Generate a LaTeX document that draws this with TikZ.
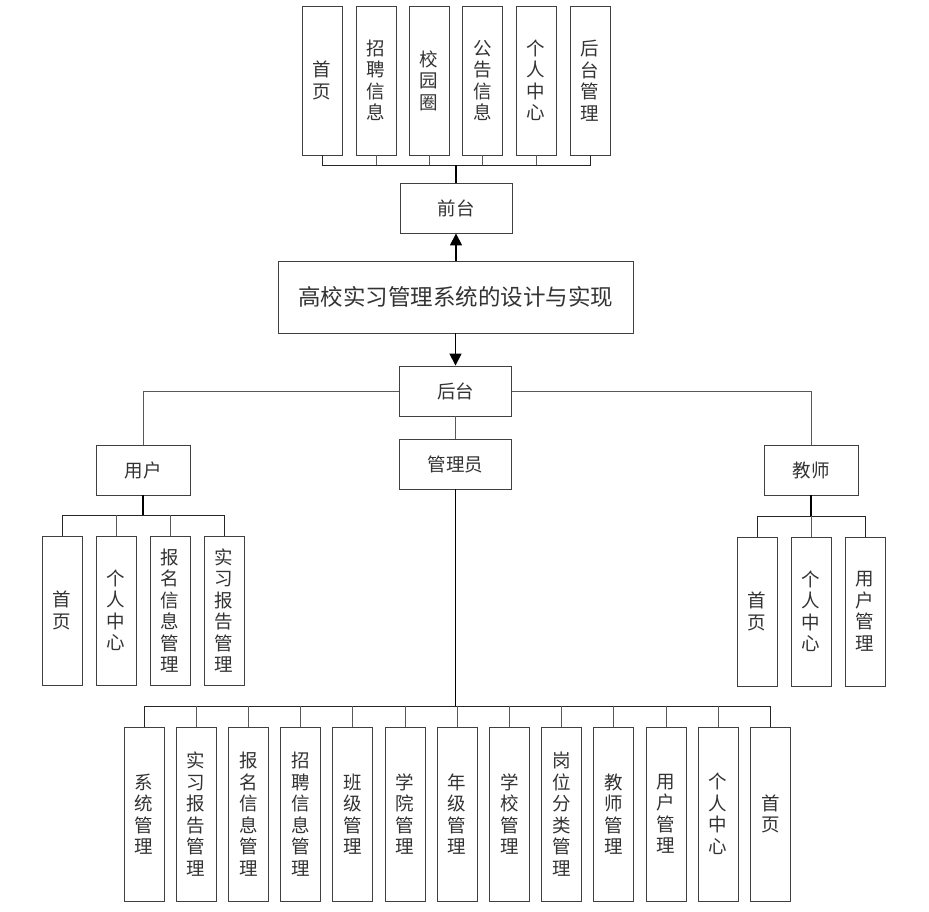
\documentclass[tikz,border=0pt]{standalone}
\usepackage{fontspec}
\newfontfamily\cjk{Noto Sans CJK SC}
\usetikzlibrary{arrows.meta}
\begin{document}
\begin{tikzpicture}[x=1pt,y=-1pt,
  box/.style={draw=black!75, line width=0.9pt, fill=white, inner sep=0pt, align=center, text=black!80, font=\cjk\fontsize{18.5}{21.5}\selectfont},
  vbox/.style={box, minimum width=40pt, minimum height=149pt},
  vboxb/.style={box, minimum width=40pt, minimum height=174pt},
  hbox/.style={box, minimum width=112pt, minimum height=50pt},
  sbox/.style={box, minimum width=94pt, minimum height=50pt},
  tick/.style={draw=black!65, line width=0.8pt},
  bus/.style={draw=black!85, line width=0.9pt},
  trunk/.style={draw=black, line width=1.6pt},
  arr/.style={trunk, -{Triangle[length=12pt,width=12pt]}}
]
\useasboundingbox (0,0) rectangle (929,912);

% ---- front-end ----
\node[vbox] (t1) at (322,80.5) {首\\页};
\node[vbox] (t2) at (376,80.5) {招\\聘\\信\\息};
\node[vbox] (t3) at (429,80.5) {校\\园\\圈};
\node[vbox] (t4) at (482.5,80.5) {公\\告\\信\\息};
\node[vbox] (t5) at (536,80.5) {个\\人\\中\\心};
\node[vbox] (t6) at (590,80.5) {后\\台\\管\\理};
\node[hbox] (qt) at (456,208) {前台};
\coordinate (tb) at (456,165);
\draw[bus] (t1.south) -- (t1.south |- tb) -| (t6.south);
\foreach \i in {2,...,5} \draw[tick] (t\i.south) -- (t\i.south |- tb);
\draw[trunk] (qt.north) -- (tb);

% ---- main ----
\node[box, minimum width=355pt, minimum height=72pt, font=\cjk\fontsize{22.5}{26}\selectfont] (main) at (455.5,297) {高校实习管理系统的设计与实现};
\draw[arr] (main.north -| qt) -- (qt.south);

% ---- back-end ----
\node[hbox] (ht) at (455.5,391) {后台};
\draw[arr] (main.south -| ht) -- (ht.north);
\node[hbox] (gly) at (455.5,464) {管理员};
\node[sbox] (yh) at (143,470) {用户};
\node[sbox] (js) at (811,470) {教师};
\draw[tick] (ht.west) -| (yh.north);
\draw[tick] (ht.east) -| (js.north);
\draw[tick] (ht.south) -- (gly.north);

% ---- user children ----
\node[vbox] (u1) at (62,610.5) {首\\页};
\node[vbox] (u2) at (116,610.5) {个\\人\\中\\心};
\node[vbox] (u3) at (170,610.5) {报\\名\\信\\息\\管\\理};
\node[vbox] (u4) at (224,610.5) {实\\习\\报\\告\\管\\理};
\coordinate (ub) at (143,515);
\draw[bus] (u1.north) -- (u1.north |- ub) -| (u4.north);
\foreach \i in {2,3} \draw[tick] (u\i.north) -- (u\i.north |- ub);
\draw[trunk] (yh.south) -- (ub);

% ---- teacher children ----
\node[vbox] (j1) at (757,611.5) {首\\页};
\node[vbox] (j2) at (811,611.5) {个\\人\\中\\心};
\node[vbox] (j3) at (865,611.5) {用\\户\\管\\理};
\coordinate (jb) at (811,516);
\draw[bus] (j1.north) -- (j1.north |- jb) -| (j3.north);
\draw[tick] (jb) -- (j2.north);
\draw[trunk] (js.south) -- (jb);

% ---- admin children ----
\foreach \t [count=\i from 0] in {{系\\统\\管\\理},{实\\习\\报\\告\\管\\理},{报\\名\\信\\息\\管\\理},{招\\聘\\信\\息\\管\\理},{班\\级\\管\\理},{学\\院\\管\\理},{年\\级\\管\\理},{学\\校\\管\\理},{岗\\位\\分\\类\\管\\理},{教\\师\\管\\理},{用\\户\\管\\理},{个\\人\\中\\心},{首\\页}}
  \node[vboxb] (b\i) at ({144+52.2*\i},814) {\t};
\coordinate (bb) at (455.5,706);
\draw[bus] (b0.north) -- (b0.north |- bb) -| (b12.north);
\foreach \i in {1,...,11} \draw[tick] (b\i.north) -- (b\i.north |- bb);
\draw[trunk] (gly.south) -- (bb);
\end{tikzpicture}
\end{document}
